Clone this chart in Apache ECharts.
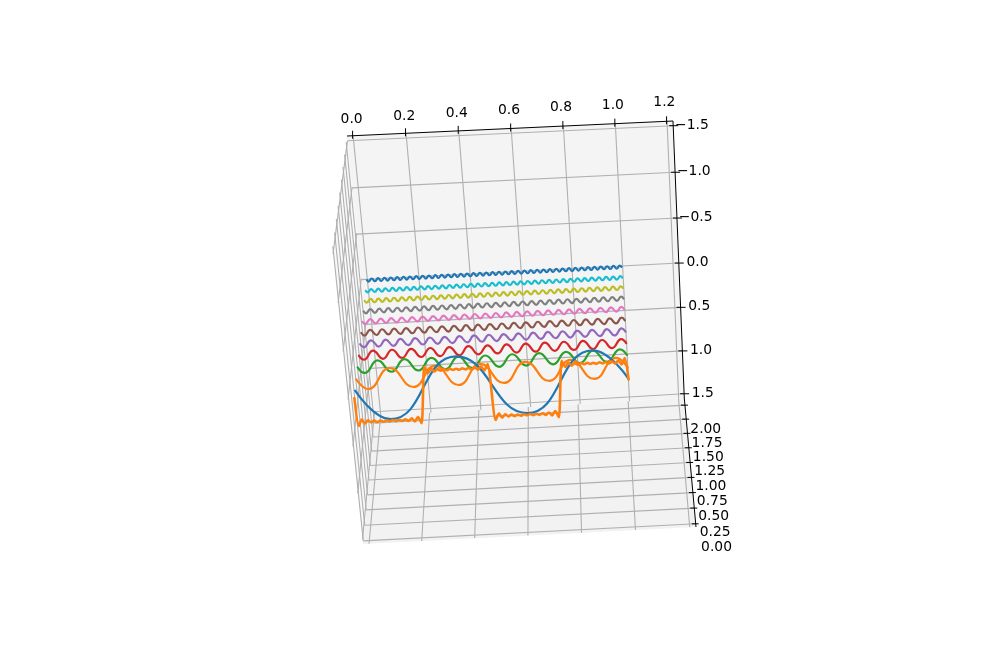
<!DOCTYPE html>
<html><head><meta charset="utf-8">
<style>html,body{margin:0;padding:0;background:#fff}#c{width:1000px;height:666px}</style>
<script src="https://cdn.jsdelivr.net/npm/echarts@6/dist/echarts.min.js"></script>
</head><body><div id="c"></div>
<script>
// ---- tick values ----
const xTicks=[0,0.2,0.4,0.6,0.8,1.0,1.2];
const xTickLabels=['0.0','0.2','0.4','0.6','0.8','1.0','1.2'];
const yTicks=[-1.5,-1.0,-0.5,0,0.5,1.0,1.5];
const yTickLabels=['\u22121.5','\u22121.0','\u22120.5','0.0','0.5','1.0','1.5'];
const zTicks=[0,0.25,0.5,0.75,1.0,1.25,1.5,1.75,2.0];
const zTickLabels=['0.00','0.25','0.50','0.75','1.00','1.25','1.50','1.75','2.00'];
// ---- series values, read at each crest and trough, from x=0 to x=1 ----
const wave1=[0,1.15,-1.15,1.15,-1.15,0];
const wave2=[0,.385,-.385,.385,-.385,.385,-.385,.385,-.385,.385,-.385,.385,-.385,0];
const wave3=[0,.23,-.23,.23,-.23,.23,-.23,.23,-.23,.23,-.23,.23,-.23,.23,-.23,.23,-.23,.23,-.23,.23,-.23,0];
const wave4=[0,.165,-.165,.165,-.165,.165,-.165,.165,-.165,.165,-.165,.165,-.165,.165,-.165,.165,-.165,.165,-.165,.165,-.165,.165,-.165,.165,-.165,.165,-.165,.165,-.165,0];
const wave5=[0,.128,-.128,.128,-.128,.128,-.128,.128,-.128,.128,-.128,.128,-.128,.128,-.128,.128,-.128,.128,-.128,.128,-.128,.128,-.128,.128,-.128,.128,-.128,.128,-.128,.128,-.128,.128,-.128,.128,-.128,.128,-.128,0];
const wave6=[0,.105,-.105,.105,-.105,.105,-.105,.105,-.105,.105,-.105,.105,-.105,.105,-.105,.105,-.105,.105,-.105,.105,-.105,.105,-.105,.105,-.105,.105,-.105,.105,-.105,.105,-.105,.105,-.105,.105,-.105,.105,-.105,.105,-.105,.105,-.105,.105,-.105,.105,-.105,0];
const wave7=[0,.088,-.088,.088,-.088,.088,-.088,.088,-.088,.088,-.088,.088,-.088,.088,-.088,.088,-.088,.088,-.088,.088,-.088,.088,-.088,.088,-.088,.088,-.088,.088,-.088,.088,-.088,.088,-.088,.088,-.088,.088,-.088,.088,-.088,.088,-.088,.088,-.088,.088,-.088,.088,-.088,.088,-.088,.088,-.088,0];
const wave8=[0,.077,-.077,.077,-.077,.077,-.077,.077,-.077,.077,-.077,.077,-.077,.077,-.077,.077,-.077,.077,-.077,.077,-.077,.077,-.077,.077,-.077,.077,-.077,.077,-.077,.077,-.077,.077,-.077,.077,-.077,.077,-.077,.077,-.077,.077,-.077,.077,-.077,.077,-.077,.077,-.077,.077,-.077,.077,-.077,.077,-.077,.077,-.077,.077,-.077,.077,-.077,0];
const wave9=[0,.068,-.068,.068,-.068,.068,-.068,.068,-.068,.068,-.068,.068,-.068,.068,-.068,.068,-.068,.068,-.068,.068,-.068,.068,-.068,.068,-.068,.068,-.068,.068,-.068,.068,-.068,.068,-.068,.068,-.068,.068,-.068,.068,-.068,.068,-.068,.068,-.068,.068,-.068,.068,-.068,.068,-.068,.068,-.068,.068,-.068,.068,-.068,.068,-.068,.068,-.068,.068,-.068,.068,-.068,.068,-.068,.068,-.068,0];
const wave10=[0,.06,-.06,.06,-.06,.06,-.06,.06,-.06,.06,-.06,.06,-.06,.06,-.06,.06,-.06,.06,-.06,.06,-.06,.06,-.06,.06,-.06,.06,-.06,.06,-.06,.06,-.06,.06,-.06,.06,-.06,.06,-.06,.06,-.06,.06,-.06,.06,-.06,.06,-.06,.06,-.06,.06,-.06,.06,-.06,.06,-.06,.06,-.06,.06,-.06,.06,-.06,.06,-.06,.06,-.06,.06,-.06,.06,-.06,.06,-.06,.06,-.06,.06,-.06,0];
const wave11=[0,.055,-.055,.055,-.055,.055,-.055,.055,-.055,.055,-.055,.055,-.055,.055,-.055,.055,-.055,.055,-.055,.055,-.055,.055,-.055,.055,-.055,.055,-.055,.055,-.055,.055,-.055,.055,-.055,.055,-.055,.055,-.055,.055,-.055,.055,-.055,.055,-.055,.055,-.055,.055,-.055,.055,-.055,.055,-.055,.055,-.055,.055,-.055,.055,-.055,.055,-.055,.055,-.055,.055,-.055,.055,-.055,.055,-.055,.055,-.055,.055,-.055,.055,-.055,.055,-.055,.055,-.055,.055,-.055,.055,-.055,0];
// the summed curve, read at each ripple
const sumX=[0,
 .0114,.0227,.0341,.0455,.0568,.0682,.0795,.0909,.1023,.1136,.125,.1364,.1477,.1591,.1705,.1818,.1932,.2045,.2159,.2273,.24,
 .26,.2727,.2841,.2955,.3068,.3182,.3295,.3409,.3523,.3636,.375,.3864,.3977,.4091,.4205,.4318,.4432,.4545,.4659,.4773,.49,
 .51,.5227,.5341,.5455,.5568,.5682,.5795,.5909,.6023,.6136,.625,.6364,.6477,.6591,.6705,.6818,.6932,.7045,.7159,.7273,.74,
 .76,.7727,.7841,.7955,.8068,.8182,.8295,.8409,.8523,.8636,.875,.8864,.8977,.9091,.9205,.9318,.9432,.9545,.9659,.9773,.99,
 1];
const sumY=[0,
 1.08,.84,1.0,.88,.97,.9,.96,.91,.96,.91,.95,.91,.96,.91,.96,.9,.97,.88,1.0,.84,1.08,
 -1.08,-.84,-1.0,-.88,-.97,-.9,-.96,-.91,-.96,-.91,-.95,-.91,-.96,-.91,-.96,-.9,-.97,-.88,-1.0,-.84,-1.08,
 1.08,.84,1.0,.88,.97,.9,.96,.91,.96,.91,.95,.91,.96,.91,.96,.9,.97,.88,1.0,.84,1.08,
 -1.08,-.84,-1.0,-.88,-.97,-.9,-.96,-.91,-.96,-.91,-.95,-.91,-.96,-.91,-.96,-.9,-.97,-.88,-1.0,-.84,-1.08,
 -.25];
const waves=[wave1,wave2,wave3,wave4,wave5,wave6,wave7,wave8,wave9,wave10,wave11];
const waveLevels=[.05,.48,.95,1.40,1.84,2.27,2.70,3.10,3.5,3.89,4.3];
const sumLevel=-.23;
const waveColors=['#1f77b4','#ff7f0e','#2ca02c','#d62728','#9467bd','#8c564b','#e377c2','#7f7f7f','#bcbd22','#17becf','#1f77b4'];
const sumColor='#ff7f0e';

// ---- projection ----
const lim={x:[-0.023,1.223],y:[-1.55,1.55],z:[-0.05,2.13]};
const A=[347,136],B=[673,121],C=[684.3,398],D=[375,416],E=[696,527],F=[363,544],G=[332.5,249];
function quad(p0,p1,p2,p3){ // (0,0),(1,0),(1,1),(0,1)
  const dx1=p1[0]-p2[0],dx2=p3[0]-p2[0],dx3=p0[0]-p1[0]+p2[0]-p3[0];
  const dy1=p1[1]-p2[1],dy2=p3[1]-p2[1],dy3=p0[1]-p1[1]+p2[1]-p3[1];
  const det=dx1*dy2-dx2*dy1;
  const g=(dx3*dy2-dx2*dy3)/det,h=(dx1*dy3-dx3*dy1)/det;
  const a=p1[0]-p0[0]+g*p1[0],b=p3[0]-p0[0]+h*p3[0],c=p0[0];
  const d=p1[1]-p0[1]+g*p1[1],e=p3[1]-p0[1]+h*p3[1],f=p0[1];
  return (u,v)=>{const w=g*u+h*v+1;return [(a*u+b*v+c)/w,(d*u+e*v+f)/w];};
}
const n=(v,l)=>(v-l[0])/(l[1]-l[0]);
const wallH=quad(A,B,C,D), floorH=quad(D,C,E,F), sideH=quad(A,D,F,G);
const wall=(x,y)=>wallH(n(x,lim.x),n(y,lim.y));
const floor_=(x,z)=>floorH(n(x,lim.x),1-n(z,lim.z));
const side=(y,z)=>sideH(n(y,lim.y),1-n(z,lim.z));

// plane holding the curves: level picks the row, value moves along the amplitude direction
const L0=[355,392],LD=[12/4.3,-26],R0=[628.5,380],RD=[-7/4.3,-26.3];
const unitPx=26, skew=0.05;
function curve(x,level,value){
  const l=[L0[0]+level*LD[0],L0[1]+level*LD[1]],r=[R0[0]+level*RD[0],R0[1]+level*RD[1]];
  const d=value*unitPx;
  return [l[0]+(r[0]-l[0])*x+skew*d,l[1]+(r[1]-l[1])*x+d];
}

// ---- scaffolding ----
const gridSegs=[];
xTicks.forEach(x=>{gridSegs.push([...wall(x,lim.y[0]),...wall(x,lim.y[1])]);gridSegs.push([...floor_(x,lim.z[1]),...floor_(x,lim.z[0])]);});
yTicks.forEach(y=>{gridSegs.push([...wall(lim.x[0],y),...wall(lim.x[1],y)]);gridSegs.push([...side(y,lim.z[1]),...side(y,lim.z[0])]);});
zTicks.forEach(z=>{gridSegs.push([...floor_(lim.x[0],z),...floor_(lim.x[1],z)]);gridSegs.push([...side(lim.y[0],z),...side(lim.y[1],z)]);});
const spineSegs=[[...A,...B],[...B,...C],[...C,...E]];
const labelRows=[];
xTicks.forEach((x,i)=>{const p=wall(x,lim.y[0]);spineSegs.push([p[0]-0.5,p[1]-5,p[0]-0.5,p[1]+3]);labelRows.push([p[0]-1.5-x,p[1]-16.8-x*1.8,xTickLabels[i]]);});
yTicks.forEach((y,i)=>{const p=wall(lim.x[1],y);spineSegs.push([p[0]-4,p[1],p[0]+5,p[1]]);labelRows.push([p[0]+18.7,p[1]-0.8,yTickLabels[i]]);});
zTicks.forEach((z,i)=>{const p=floor_(lim.x[1],z);spineSegs.push([p[0]-4,p[1],p[0]+3,p[1]]);labelRows.push([p[0]+20.8,p[1]+24,zTickLabels[i]]);});

function segSeries(data,color,width,z){
  return {type:'custom',coordinateSystem:'cartesian2d',silent:true,z,clip:false,data,
    renderItem:(pr,api)=>{const a=api.coord([api.value(0),api.value(1)]),b=api.coord([api.value(2),api.value(3)]);
      return {type:'line',shape:{x1:a[0],y1:a[1],x2:b[0],y2:b[1]},style:{stroke:color,lineWidth:width,fill:null}};}};
}
function paneSeries(corners,color){
  return {type:'custom',coordinateSystem:'cartesian2d',silent:true,z:1,clip:false,data:corners,
    renderItem:(pr,api)=>{ if(pr.dataIndex>0) return null;
      return {type:'polygon',shape:{points:corners.map(c=>api.coord(c))},style:{fill:color}};}};
}
const lineSeries=[];
waves.forEach((vals,k)=>{
  const cycles=(vals.length-2)/2;
  const pts=vals.map((v,i)=>{
    const x=i===0?0:i===vals.length-1?1:(2*i-1)/(4*cycles);
    return curve(x,waveLevels[k],v);
  });
  lineSeries.push({type:'line',name:'harmonic '+(k+1),data:pts,smooth:0.5,showSymbol:false,symbol:'none',silent:true,z:20-k,
    lineStyle:{color:waveColors[k],width:2.2,cap:'round',join:'round'}});
});
lineSeries.push({type:'line',name:'sum',data:sumX.map((x,i)=>curve(x,sumLevel,sumY[i])),smooth:0.25,showSymbol:false,symbol:'none',silent:true,z:30,
  lineStyle:{color:sumColor,width:2.6,cap:'round',join:'round'}});

const chart=echarts.init(document.getElementById('c'),null,{renderer:'canvas'});
chart.setOption({
  animation:false,backgroundColor:'#ffffff',
  grid:{left:0,right:0,top:0,bottom:0},
  xAxis:{type:'value',min:0,max:1000,show:false},
  yAxis:{type:'value',min:0,max:666,inverse:true,show:false},
  tooltip:{show:false},
  series:[
    paneSeries([A,D,F,G],'#f9f9f9'),
    paneSeries([A,B,C,D],'#f4f4f4'),
    paneSeries([D,C,E,F],'#f2f2f2'),
    segSeries(gridSegs,'#b0b0b0',1.1,2),
    segSeries(spineSegs,'#000000',1,3),
    ...lineSeries,
    {type:'scatter',data:labelRows,symbolSize:1,silent:true,z:40,itemStyle:{color:'rgba(0,0,0,0)',opacity:1},
     label:{show:true,position:'inside',align:'center',verticalAlign:'middle',color:'#000',opacity:1,fontFamily:'DejaVu Sans',fontSize:13.89,
       formatter:p=>p.data[2]}}
  ]
});
</script></body></html>
